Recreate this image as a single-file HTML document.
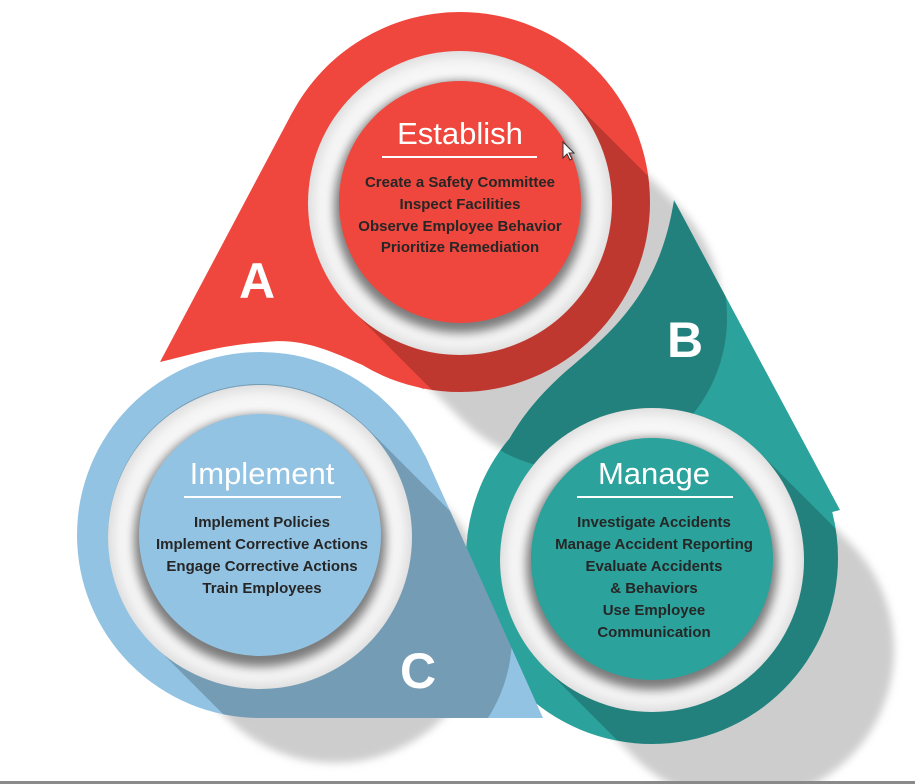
<!DOCTYPE html>
<html><head><meta charset="utf-8"><style>
html,body{margin:0;padding:0;background:#fff;width:915px;height:784px;overflow:hidden}
svg{display:block}
.t{font-family:"Liberation Sans",sans-serif;fill:#fff;font-size:31px;text-anchor:middle}
.i{font-family:"Liberation Sans",sans-serif;fill:#262626;font-size:15px;font-weight:bold;text-anchor:middle}
.L{font-family:"Liberation Sans",sans-serif;fill:#fff;font-size:50px;font-weight:bold;text-anchor:middle}
</style></head><body>
<svg width="915" height="784" viewBox="0 0 915 784" xmlns="http://www.w3.org/2000/svg">
<defs>
<filter id="bl" x="-20%" y="-20%" width="140%" height="140%"><feGaussianBlur stdDeviation="5"/></filter>
<filter id="bs" x="-20%" y="-20%" width="140%" height="140%"><feGaussianBlur stdDeviation="4"/></filter>
<radialGradient id="wr" cx="50%" cy="50%" r="50%">
<stop offset="0.8" stop-color="#ffffff"/><stop offset="0.93" stop-color="#f2f2f2"/><stop offset="1" stop-color="#e0e0e0"/>
</radialGradient>
<clipPath id="cRed"><circle cx="460" cy="202" r="190"/><path d="M160,362 L292,113 L460,205 L424,389 C360,370 320,335 266,342 C220,345 190,355 160,362 Z"/></clipPath>
<clipPath id="cTeal"><circle cx="652" cy="558" r="186"/><path d="M674,200 L840,510 L652,558 L490,477 C515,420 540,395 565,372 C615,330 660,290 674,200 Z"/></clipPath>
<clipPath id="cBlue"><circle cx="260" cy="535" r="183"/><path d="M425,455 L543,718 L260,718 L260,535 Z"/></clipPath>
</defs>

<!-- outside gray long shadows -->
<g fill="#cdcdcd" filter="url(#bs)">
<path d="M567.5,95.5 L677.5,205.5 A152 152 0 0 1 462.5,420.5 L352.5,310.5 A152 152 0 0 1 567.5,95.5 Z"/>
<path d="M759.5,452.5 L849.5,542.5 A152 152 0 0 1 634.5,757.5 L544.5,667.5 A152 152 0 0 1 759.5,452.5 Z"/>
<path d="M367.5,428.5 L442.5,503.5 A152 152 0 0 1 227.5,718.5 L152.5,643.5 A152 152 0 0 1 367.5,428.5 Z"/>
</g>

<!-- teal shape -->
<g clip-path="url(#cTeal)">
<rect width="915" height="784" fill="#2ba29b"/>
<g fill="#000" fill-opacity="0.2">
<path d="M759.5,452.5 L859.5,552.5 A152 152 0 0 1 644.5,767.5 L544.5,667.5 A152 152 0 0 1 759.5,452.5 Z"/>
<path d="M567.5,95.5 L682.5,210.5 A152 152 0 0 1 467.5,425.5 L352.5,310.5 A152 152 0 0 1 567.5,95.5 Z"/>
</g>
</g>
<!-- blue shape -->
<g clip-path="url(#cBlue)">
<rect width="915" height="784" fill="#92c3e3"/>
<path fill="#000" fill-opacity="0.2" d="M367.5,428.5 L467.5,528.5 A152 152 0 0 1 252.5,743.5 L152.5,643.5 A152 152 0 0 1 367.5,428.5 Z"/>
</g>
<!-- red shape -->
<g clip-path="url(#cRed)">
<rect width="915" height="784" fill="#ef473d"/>
<path fill="#000" fill-opacity="0.2" d="M567.5,95.5 L667.5,195.5 A152 152 0 0 1 452.5,410.5 L352.5,310.5 A152 152 0 0 1 567.5,95.5 Z"/>
</g>

<!-- rings -->
<g>
<circle cx="460" cy="203" r="152" fill="url(#wr)"/>
<circle cx="460" cy="207" r="126" fill="#7a7a7a" filter="url(#bl)"/>
<circle cx="460" cy="202" r="121" fill="#ef473d"/>

<circle cx="652" cy="560" r="152" fill="url(#wr)"/>
<circle cx="652" cy="564" r="126" fill="#7a7a7a" filter="url(#bl)"/>
<circle cx="652" cy="559" r="121" fill="#2ba29b"/>

<circle cx="260" cy="537" r="152" fill="url(#wr)"/>
<circle cx="260" cy="541" r="126" fill="#7a7a7a" filter="url(#bl)"/>
<circle cx="260" cy="535" r="121" fill="#92c3e3"/>
</g>

<!-- letters -->
<text class="L" x="257" y="298">A</text>
<text class="L" x="685" y="357">B</text>
<text class="L" x="418" y="688">C</text>

<!-- Establish -->
<text class="t" x="460" y="144">Establish</text>
<rect x="382" y="156" width="155" height="2" fill="#fff"/>
<text class="i" x="460" y="187">Create a Safety Committee</text>
<text class="i" x="460" y="209">Inspect Facilities</text>
<text class="i" x="460" y="231">Observe Employee Behavior</text>
<text class="i" x="460" y="252">Prioritize Remediation</text>

<!-- Implement -->
<text class="t" x="262" y="484">Implement</text>
<rect x="184" y="496" width="157" height="2" fill="#fff"/>
<text class="i" x="262" y="527">Implement Policies</text>
<text class="i" x="262" y="549">Implement Corrective Actions</text>
<text class="i" x="262" y="571">Engage Corrective Actions</text>
<text class="i" x="262" y="593">Train Employees</text>

<!-- Manage -->
<text class="t" x="654" y="484">Manage</text>
<rect x="577" y="496" width="156" height="2" fill="#fff"/>
<text class="i" x="654" y="527">Investigate Accidents</text>
<text class="i" x="654" y="549">Manage Accident Reporting</text>
<text class="i" x="654" y="571">Evaluate Accidents</text>
<text class="i" x="654" y="593">&amp; Behaviors</text>
<text class="i" x="654" y="615">Use Employee</text>
<text class="i" x="654" y="637">Communication</text>

<!-- cursor -->
<path d="M563,142 L563,158 L567,154 L570,160 L572,159 L569,153 L574,153 Z" fill="#fff" stroke="#333" stroke-width="1"/>

<rect x="0" y="781" width="915" height="3" fill="#8a8a8a"/>
</svg>
</body></html>
